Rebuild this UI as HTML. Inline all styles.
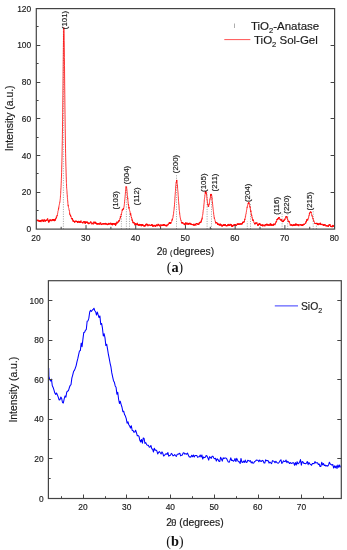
<!DOCTYPE html>
<html><head><meta charset="utf-8"><title>XRD patterns</title>
<style>html,body{margin:0;padding:0;background:#fff;width:347px;height:550px;overflow:hidden}svg{display:block}</style>
</head><body>
<svg width="347" height="550" viewBox="0 0 347 550">
<style>text{font-family:'Liberation Sans',Arial,sans-serif;fill:#1a1a1a;stroke:#1a1a1a;stroke-width:0.15px}.pk{font-size:7.9px;text-anchor:middle}.tk{font-size:8.4px}.tm{text-anchor:middle}.te{text-anchor:end}.lb{font-size:10.4px}.lg{font-size:11.5px}.ab{font-family:'Liberation Serif','Times New Roman',serif;font-size:13.8px;font-weight:bold;text-anchor:middle;fill:#111;stroke:none}</style>
<rect width="347" height="550" fill="#fff"/>
<line x1="63.4" y1="229.1" x2="63.4" y2="29.5" stroke="#8a8a8a" stroke-width="0.8" stroke-dasharray="1 1.4"/>
<line x1="121.4" y1="229.1" x2="121.4" y2="215.5" stroke="#8a8a8a" stroke-width="0.8" stroke-dasharray="1 1.4"/>
<line x1="126.4" y1="229.1" x2="126.4" y2="187" stroke="#8a8a8a" stroke-width="0.8" stroke-dasharray="1 1.4"/>
<line x1="129.5" y1="229.1" x2="129.5" y2="213.6" stroke="#8a8a8a" stroke-width="0.8" stroke-dasharray="1 1.4"/>
<line x1="176.5" y1="229.1" x2="176.5" y2="174" stroke="#8a8a8a" stroke-width="0.8" stroke-dasharray="1 1.4"/>
<line x1="207.1" y1="229.1" x2="207.1" y2="192.5" stroke="#8a8a8a" stroke-width="0.8" stroke-dasharray="1 1.4"/>
<line x1="211.5" y1="229.1" x2="211.5" y2="194.5" stroke="#8a8a8a" stroke-width="0.8" stroke-dasharray="1 1.4"/>
<line x1="247.3" y1="229.1" x2="247.3" y2="221.5" stroke="#8a8a8a" stroke-width="0.8" stroke-dasharray="1 1.4"/>
<line x1="250.5" y1="229.1" x2="250.5" y2="203.5" stroke="#8a8a8a" stroke-width="0.8" stroke-dasharray="1 1.4"/>
<line x1="282.1" y1="229.1" x2="282.1" y2="213.6" stroke="#8a8a8a" stroke-width="0.8" stroke-dasharray="1 1.4"/>
<line x1="287.7" y1="229.1" x2="287.7" y2="213.6" stroke="#8a8a8a" stroke-width="0.8" stroke-dasharray="1 1.4"/>
<line x1="313.2" y1="229.1" x2="313.2" y2="211" stroke="#8a8a8a" stroke-width="0.8" stroke-dasharray="1 1.4"/>
<line x1="316.4" y1="229.1" x2="316.4" y2="222" stroke="#8a8a8a" stroke-width="0.8" stroke-dasharray="1 1.4"/>
<path d="M36.9,219.7 37.0,220.8 37.1,221.0 37.2,220.4 37.3,219.8 37.4,220.6 37.5,220.4 37.6,220.5 37.7,220.3 37.8,220.7 37.9,221.2 38.0,221.1 38.1,219.7 38.2,220.6 38.3,221.2 38.4,221.4 38.5,220.4 38.6,220.1 38.7,220.3 38.8,220.6 38.9,220.7 39.0,220.7 39.1,221.3 39.2,221.7 39.3,220.8 39.4,220.8 39.5,221.9 39.6,220.5 39.7,220.6 39.8,220.8 39.9,221.0 40.0,221.1 40.1,220.3 40.2,220.9 40.3,220.5 40.4,220.2 40.5,221.9 40.6,220.8 40.7,220.9 40.8,221.0 40.9,220.7 41.0,221.1 41.1,222.1 41.2,220.7 41.3,220.6 41.4,220.4 41.5,220.2 41.6,220.5 41.7,219.8 41.8,221.0 41.9,220.1 42.0,220.4 42.1,220.6 42.2,219.8 42.3,219.5 42.4,220.7 42.5,220.6 42.6,221.3 42.7,220.2 42.8,219.9 42.9,220.9 43.0,220.8 43.1,221.1 43.2,220.3 43.3,220.5 43.4,222.0 43.5,221.0 43.6,220.4 43.7,220.7 43.8,220.6 43.9,219.7 44.0,220.2 44.1,220.3 44.2,219.4 44.3,219.3 44.4,220.5 44.5,221.0 44.6,221.2 44.7,220.9 44.8,221.4 44.9,220.4 45.0,220.8 45.1,220.3 45.2,220.8 45.3,221.6 45.4,220.9 45.5,220.6 45.6,221.1 45.7,220.4 45.8,220.7 45.9,220.6 46.0,219.7 46.1,221.1 46.2,221.0 46.3,220.2 46.4,220.6 46.5,220.4 46.6,220.3 46.7,220.3 46.8,220.7 46.9,220.3 47.0,220.4 47.1,219.3 47.2,220.1 47.3,219.5 47.4,218.6 47.5,218.5 47.6,219.1 47.7,218.8 47.8,218.7 47.9,220.3 48.0,220.0 48.1,220.6 48.2,219.9 48.3,221.2 48.4,221.9 48.5,221.2 48.6,222.5 48.7,221.7 48.8,221.9 48.9,222.2 49.0,221.2 49.1,222.2 49.2,220.0 49.3,221.1 49.4,220.7 49.5,220.5 49.6,219.7 49.7,220.1 49.8,221.1 49.9,221.1 50.0,220.9 50.1,219.7 50.2,220.0 50.3,219.9 50.4,219.6 50.5,220.7 50.6,220.2 50.7,220.4 50.8,221.1 50.9,221.1 51.0,219.7 51.1,220.1 51.2,220.3 51.3,220.8 51.4,220.7 51.5,220.5 51.6,220.9 51.7,221.2 51.8,220.5 51.9,220.6 52.0,220.3 52.1,219.5 52.2,219.9 52.3,220.3 52.4,219.6 52.5,220.2 52.6,219.7 52.7,220.1 52.8,220.5 52.9,219.6 53.0,219.0 53.1,220.3 53.2,219.5 53.3,219.9 53.4,219.1 53.5,220.5 53.6,219.3 53.7,219.5 53.8,220.3 53.9,219.5 54.0,219.6 54.1,220.4 54.2,219.5 54.3,220.5 54.4,221.2 54.5,220.6 54.6,220.7 54.7,219.7 54.8,220.4 54.9,219.7 55.0,219.3 55.1,220.4 55.2,219.9 55.3,220.5 55.4,218.6 55.5,218.9 55.6,219.5 55.7,218.6 55.8,218.4 55.9,218.6 56.0,219.0 56.1,218.8 56.2,218.4 56.3,216.7 56.4,217.7 56.5,217.4 56.6,216.8 56.7,217.2 56.8,216.8 56.9,216.1 57.0,215.5 57.1,215.3 57.2,216.0 57.3,215.2 57.4,214.7 57.5,213.5 57.6,213.2 57.7,213.3 57.8,212.6 57.9,211.6 58.0,211.2 58.1,211.1 58.2,210.8 58.3,210.3 58.4,209.1 58.5,209.3 58.6,207.8 58.7,208.4 58.8,207.8 58.9,207.0 59.0,205.9 59.1,205.6 59.2,205.3 59.3,204.8 59.4,204.1 59.5,203.6 59.6,202.6 59.7,202.8 59.8,202.7 59.9,202.0 60.0,200.9 60.1,200.3 60.2,199.3 60.3,198.5 60.4,197.3 60.5,195.4 60.6,194.6 60.7,193.3 60.8,190.3 60.9,189.1 61.0,187.5 61.1,185.6 61.2,183.4 61.3,180.7 61.4,178.2 61.5,176.1 61.6,172.4 61.7,169.1 61.8,164.9 61.9,161.6 62.0,157.3 62.1,151.5 62.2,146.4 62.3,140.5 62.4,134.3 62.5,127.6 62.6,120.8 62.7,112.5 62.8,103.0 62.9,94.5 63.0,84.7 63.1,75.4 63.2,65.3 63.3,56.4 63.4,47.4 63.5,40.1 63.6,33.7 63.7,30.5 63.8,27.5 63.9,27.9 64.0,31.1 64.1,33.5 64.2,40.6 64.3,47.9 64.4,57.4 64.5,65.7 64.6,76.0 64.7,86.1 64.8,94.8 64.9,105.1 65.0,114.4 65.1,121.1 65.2,128.8 65.3,135.1 65.4,142.0 65.5,148.2 65.6,153.3 65.7,157.8 65.8,161.9 65.9,166.2 66.0,168.9 66.1,172.9 66.2,176.1 66.3,179.1 66.4,182.3 66.5,183.5 66.6,186.8 66.7,188.4 66.8,189.5 66.9,190.4 67.0,191.9 67.1,194.2 67.2,194.3 67.3,196.0 67.4,197.6 67.5,198.8 67.6,199.6 67.7,201.5 67.8,201.4 67.9,203.7 68.0,204.7 68.1,205.5 68.2,204.9 68.3,206.0 68.4,207.2 68.5,207.5 68.6,207.8 68.7,208.0 68.8,208.3 68.9,208.7 69.0,209.8 69.1,210.2 69.2,210.0 69.3,210.1 69.4,210.8 69.5,211.6 69.6,212.0 69.7,214.5 69.8,213.7 69.9,213.9 70.0,214.1 70.1,214.5 70.2,215.1 70.3,215.3 70.4,214.9 70.5,216.3 70.6,215.0 70.7,215.9 70.8,216.3 70.9,216.1 71.0,216.0 71.1,216.4 71.2,216.9 71.3,217.4 71.4,218.6 71.5,218.0 71.6,218.5 71.7,218.4 71.8,218.4 71.9,219.1 72.0,219.2 72.1,218.7 72.2,219.3 72.3,219.6 72.4,218.2 72.5,219.2 72.6,219.8 72.7,219.2 72.8,220.5 72.9,221.4 73.0,220.5 73.1,220.1 73.2,220.6 73.3,221.4 73.4,220.8 73.5,220.8 73.6,221.3 73.7,221.5 73.8,220.6 73.9,220.8 74.0,221.4 74.1,221.1 74.2,221.7 74.3,221.0 74.4,222.1 74.5,222.6 74.6,222.2 74.7,221.6 74.8,222.0 74.9,222.5 75.0,221.1 75.1,221.4 75.2,221.1 75.3,221.7 75.4,221.3 75.5,221.0 75.6,221.1 75.7,221.0 75.8,220.9 75.9,220.4 76.0,221.3 76.1,221.8 76.2,221.1 76.3,221.0 76.4,222.0 76.5,221.0 76.6,221.9 76.7,221.6 76.8,221.8 76.9,222.0 77.0,221.8 77.1,221.9 77.2,221.2 77.3,222.9 77.4,222.9 77.5,222.4 77.6,221.3 77.7,222.6 77.8,222.1 77.9,222.7 78.0,221.8 78.1,222.2 78.2,222.1 78.3,221.3 78.4,221.5 78.5,220.9 78.6,221.3 78.7,221.3 78.8,221.6 78.9,222.6 79.0,222.2 79.1,221.5 79.2,222.2 79.3,222.4 79.4,221.9 79.5,221.6 79.6,221.6 79.7,222.7 79.8,222.7 79.9,221.2 80.0,222.6 80.1,222.8 80.2,222.3 80.3,222.9 80.4,221.8 80.5,221.1 80.6,221.9 80.7,221.5 80.8,221.6 80.9,221.5 81.0,220.5 81.1,221.2 81.2,221.4 81.3,221.7 81.4,222.4 81.5,222.5 81.6,222.3 81.7,222.1 81.8,222.0 81.9,221.9 82.0,222.0 82.1,222.5 82.2,221.9 82.3,222.1 82.4,222.7 82.5,222.5 82.6,223.2 82.7,222.6 82.8,222.2 82.9,222.5 83.0,223.3 83.1,222.5 83.2,222.1 83.3,222.4 83.4,221.9 83.5,221.8 83.6,221.8 83.7,221.9 83.8,221.3 83.9,222.0 84.0,221.2 84.1,221.1 84.2,221.8 84.3,222.3 84.4,222.8 84.5,221.5 84.6,222.2 84.7,222.3 84.8,223.0 84.9,223.2 85.0,222.5 85.1,223.6 85.2,223.0 85.3,223.4 85.4,222.3 85.5,223.4 85.6,221.4 85.7,221.7 85.8,222.6 85.9,222.8 86.0,221.7 86.1,222.0 86.2,222.5 86.3,221.9 86.4,222.8 86.5,222.0 86.6,222.9 86.7,223.0 86.8,222.2 86.9,221.7 87.0,222.1 87.1,221.9 87.2,221.7 87.3,221.6 87.4,223.2 87.5,222.2 87.6,222.3 87.7,222.2 87.8,222.9 87.9,223.2 88.0,222.1 88.1,223.8 88.2,223.5 88.3,223.7 88.4,223.1 88.5,223.6 88.6,223.5 88.7,224.2 88.8,223.2 88.9,223.6 89.0,223.2 89.1,223.2 89.2,223.5 89.3,222.9 89.4,223.4 89.5,223.1 89.6,223.1 89.7,222.9 89.8,222.7 89.9,223.3 90.0,222.8 90.1,222.8 90.2,223.0 90.3,222.7 90.4,222.4 90.5,221.8 90.6,221.4 90.7,222.7 90.8,222.9 90.9,222.9 91.0,222.8 91.1,222.7 91.2,221.8 91.3,223.5 91.4,223.7 91.5,223.5 91.6,224.2 91.7,224.3 91.8,223.9 91.9,223.9 92.0,223.6 92.1,223.1 92.2,223.5 92.3,222.8 92.4,223.2 92.5,223.5 92.6,223.5 92.7,223.9 92.8,223.1 92.9,223.1 93.0,223.6 93.1,224.2 93.2,224.5 93.3,222.6 93.4,222.6 93.5,223.3 93.6,222.5 93.7,222.6 93.8,222.8 93.9,221.7 94.0,221.5 94.1,221.9 94.2,222.0 94.3,222.4 94.4,222.8 94.5,222.2 94.6,223.1 94.7,222.8 94.8,223.6 94.9,223.4 95.0,223.2 95.1,222.6 95.2,221.7 95.3,223.6 95.4,222.2 95.5,222.1 95.6,222.7 95.7,223.3 95.8,222.3 95.9,222.8 96.0,223.1 96.1,223.7 96.2,223.7 96.3,224.0 96.4,222.9 96.5,224.1 96.6,223.5 96.7,223.9 96.8,224.4 96.9,224.5 97.0,224.0 97.1,223.2 97.2,224.3 97.3,223.9 97.4,223.9 97.5,223.5 97.6,224.0 97.7,224.6 97.8,224.2 97.9,224.1 98.0,223.5 98.1,224.0 98.2,223.7 98.3,223.0 98.4,223.7 98.5,223.6 98.6,223.7 98.7,223.6 98.8,224.3 98.9,223.9 99.0,224.3 99.1,223.2 99.2,224.6 99.3,224.0 99.4,224.1 99.5,223.8 99.6,224.0 99.7,224.2 99.8,223.8 99.9,223.2 100.0,223.5 100.1,223.1 100.2,222.3 100.3,222.9 100.4,223.3 100.5,223.8 100.6,224.2 100.7,223.2 100.8,223.2 100.9,222.8 101.0,223.4 101.1,223.2 101.2,224.9 101.3,224.1 101.4,224.9 101.5,224.7 101.6,224.5 101.7,224.7 101.8,225.0 101.9,224.7 102.0,224.6 102.1,224.2 102.2,224.1 102.3,223.7 102.4,224.3 102.5,223.5 102.6,224.1 102.7,224.2 102.8,224.1 102.9,224.1 103.0,223.8 103.1,223.8 103.2,223.8 103.3,223.1 103.4,224.4 103.5,223.6 103.6,224.2 103.7,223.9 103.8,224.0 103.9,223.5 104.0,223.3 104.1,224.2 104.2,223.6 104.3,223.7 104.4,223.9 104.5,223.9 104.6,223.3 104.7,223.9 104.8,224.6 104.9,223.6 105.0,223.0 105.1,223.2 105.2,223.5 105.3,223.6 105.4,222.9 105.5,223.5 105.6,223.2 105.7,223.8 105.8,224.0 105.9,224.5 106.0,223.4 106.1,224.7 106.2,223.8 106.3,224.0 106.4,223.7 106.5,223.6 106.6,223.6 106.7,223.9 106.8,224.4 106.9,223.8 107.0,224.3 107.1,224.4 107.2,224.4 107.3,223.7 107.4,224.1 107.5,225.1 107.6,224.7 107.7,224.7 107.8,224.7 107.9,224.0 108.0,225.0 108.1,224.7 108.2,223.8 108.3,224.1 108.4,223.7 108.5,223.7 108.6,224.1 108.7,223.5 108.8,222.9 108.9,224.2 109.0,223.7 109.1,224.5 109.2,223.4 109.3,223.1 109.4,223.4 109.5,224.0 109.6,224.2 109.7,224.2 109.8,223.9 109.9,223.8 110.0,224.3 110.1,223.3 110.2,223.6 110.3,223.7 110.4,224.1 110.5,224.3 110.6,223.7 110.7,222.7 110.8,223.4 110.9,223.1 111.0,223.5 111.1,224.2 111.2,223.5 111.3,223.2 111.4,224.6 111.5,224.2 111.6,224.9 111.7,224.4 111.8,223.8 111.9,224.6 112.0,223.9 112.1,223.8 112.2,224.1 112.3,223.5 112.4,225.3 112.5,223.2 112.6,223.2 112.7,224.6 112.8,224.5 112.9,224.0 113.0,223.9 113.1,224.6 113.2,223.2 113.3,224.2 113.4,224.1 113.5,223.9 113.6,223.4 113.7,224.1 113.8,223.4 113.9,223.9 114.0,224.1 114.1,223.7 114.2,224.2 114.3,223.7 114.4,224.7 114.5,224.7 114.6,223.6 114.7,224.1 114.8,224.6 114.9,223.8 115.0,224.2 115.1,223.9 115.2,223.5 115.3,224.1 115.4,222.9 115.5,223.5 115.6,225.9 115.7,224.4 115.8,224.9 115.9,224.2 116.0,224.5 116.1,223.7 116.2,223.4 116.3,224.1 116.4,223.5 116.5,223.5 116.6,222.9 116.7,223.4 116.8,221.7 116.9,222.2 117.0,222.1 117.1,222.8 117.2,223.3 117.3,223.5 117.4,222.8 117.5,223.0 117.6,222.3 117.7,222.5 117.8,222.5 117.9,222.2 118.0,222.3 118.1,222.8 118.2,221.1 118.3,221.7 118.4,221.4 118.5,221.8 118.6,221.3 118.7,220.5 118.8,221.1 118.9,220.8 119.0,221.3 119.1,220.7 119.2,220.5 119.3,220.2 119.4,220.1 119.5,221.2 119.6,219.7 119.7,219.3 119.8,218.7 119.9,218.9 120.0,219.2 120.1,218.7 120.2,217.9 120.3,217.4 120.4,216.2 120.5,217.7 120.6,216.9 120.7,216.6 120.8,216.4 120.9,216.4 121.0,215.7 121.1,215.3 121.2,214.0 121.3,214.7 121.4,213.7 121.5,213.8 121.6,213.2 121.7,212.6 121.8,212.7 121.9,211.8 122.0,211.1 122.1,210.8 122.2,209.8 122.3,210.5 122.4,209.6 122.5,210.1 122.6,209.6 122.7,208.9 122.8,209.5 122.9,209.0 123.0,209.2 123.1,209.3 123.2,208.8 123.3,209.3 123.4,209.0 123.5,208.2 123.6,209.1 123.7,208.0 123.8,207.9 123.9,207.2 124.0,207.1 124.1,206.2 124.2,205.8 124.3,204.7 124.4,203.8 124.5,203.1 124.6,201.5 124.7,200.1 124.8,199.6 124.9,198.5 125.0,197.9 125.1,196.7 125.2,195.2 125.3,194.6 125.4,193.1 125.5,191.8 125.6,191.2 125.7,189.4 125.8,189.0 125.9,187.2 126.0,186.7 126.1,187.2 126.2,186.6 126.3,186.9 126.4,187.0 126.5,186.9 126.6,187.3 126.7,188.6 126.8,188.8 126.9,190.1 127.0,191.2 127.1,191.8 127.2,192.7 127.3,194.4 127.4,195.5 127.5,196.0 127.6,197.0 127.7,199.0 127.8,198.5 127.9,200.2 128.0,201.5 128.1,201.6 128.2,203.7 128.3,204.7 128.4,204.1 128.5,205.1 128.6,205.9 128.7,205.6 128.8,208.4 128.9,208.0 129.0,207.5 129.1,207.1 129.2,208.3 129.3,209.4 129.4,210.0 129.5,210.1 129.6,210.3 129.7,211.2 129.8,211.2 129.9,211.2 130.0,211.4 130.1,212.6 130.2,212.6 130.3,213.1 130.4,214.2 130.5,214.3 130.6,214.8 130.7,213.3 130.8,214.9 130.9,215.9 131.0,215.6 131.1,215.9 131.2,216.6 131.3,217.1 131.4,217.6 131.5,217.0 131.6,217.8 131.7,218.1 131.8,218.6 131.9,219.5 132.0,218.8 132.1,219.0 132.2,220.9 132.3,220.0 132.4,220.3 132.5,220.1 132.6,220.9 132.7,222.0 132.8,221.8 132.9,222.5 133.0,221.8 133.1,223.2 133.2,222.5 133.3,222.9 133.4,222.3 133.5,222.4 133.6,223.3 133.7,222.7 133.8,222.3 133.9,222.9 134.0,222.3 134.1,222.9 134.2,222.6 134.3,223.1 134.4,223.3 134.5,223.0 134.6,223.2 134.7,224.4 134.8,224.5 134.9,223.6 135.0,225.4 135.1,224.1 135.2,224.0 135.3,223.7 135.4,224.7 135.5,224.6 135.6,223.8 135.7,224.1 135.8,223.1 135.9,223.7 136.0,223.6 136.1,223.7 136.2,224.0 136.3,224.6 136.4,224.0 136.5,224.5 136.6,223.7 136.7,224.7 136.8,224.5 136.9,225.2 137.0,223.9 137.1,224.9 137.2,224.5 137.3,224.0 137.4,222.8 137.5,223.3 137.6,224.8 137.7,224.0 137.8,225.2 137.9,225.3 138.0,224.7 138.1,224.7 138.2,224.8 138.3,225.1 138.4,224.5 138.5,225.0 138.6,224.5 138.7,226.0 138.8,225.4 138.9,225.0 139.0,225.4 139.1,225.4 139.2,225.0 139.3,223.9 139.4,224.4 139.5,224.8 139.6,225.4 139.7,225.0 139.8,225.5 139.9,224.1 140.0,224.4 140.1,224.3 140.2,225.4 140.3,224.2 140.4,224.1 140.5,224.9 140.6,225.2 140.7,225.1 140.8,224.8 140.9,225.1 141.0,225.4 141.1,224.4 141.2,225.2 141.3,226.3 141.4,225.6 141.5,224.8 141.6,225.6 141.7,224.4 141.8,225.0 141.9,225.1 142.0,224.4 142.1,225.3 142.2,224.7 142.3,225.2 142.4,224.6 142.5,224.8 142.6,225.9 142.7,224.4 142.8,224.4 142.9,225.2 143.0,224.6 143.1,225.5 143.2,225.7 143.3,225.5 143.4,225.7 143.5,225.8 143.6,225.1 143.7,225.7 143.8,226.3 143.9,226.2 144.0,226.5 144.1,226.7 144.2,225.6 144.3,226.1 144.4,225.7 144.5,226.2 144.6,225.5 144.7,226.0 144.8,225.5 144.9,226.2 145.0,226.5 145.1,225.8 145.2,225.9 145.3,225.3 145.4,224.7 145.5,226.1 145.6,225.7 145.7,225.2 145.8,223.9 145.9,224.5 146.0,224.8 146.1,225.4 146.2,224.3 146.3,224.1 146.4,224.0 146.5,224.5 146.6,224.4 146.7,223.5 146.8,223.8 146.9,224.8 147.0,225.3 147.1,224.7 147.2,225.1 147.3,224.4 147.4,224.1 147.5,224.1 147.6,225.4 147.7,224.4 147.8,224.9 147.9,226.2 148.0,226.1 148.1,225.8 148.2,226.1 148.3,225.5 148.4,225.9 148.5,225.4 148.6,225.6 148.7,225.7 148.8,225.2 148.9,224.6 149.0,224.9 149.1,224.3 149.2,224.5 149.3,224.7 149.4,224.6 149.5,225.1 149.6,225.0 149.7,225.4 149.8,225.1 149.9,225.9 150.0,225.6 150.1,225.7 150.2,225.6 150.3,225.1 150.4,225.8 150.5,225.8 150.6,225.9 150.7,225.5 150.8,224.9 150.9,225.9 151.0,225.3 151.1,224.7 151.2,225.3 151.3,225.2 151.4,224.8 151.5,224.3 151.6,224.1 151.7,225.3 151.8,225.0 151.9,225.4 152.0,225.0 152.1,225.7 152.2,224.3 152.3,225.2 152.4,224.8 152.5,225.4 152.6,226.3 152.7,224.9 152.8,226.4 152.9,226.6 153.0,225.6 153.1,226.4 153.2,225.8 153.3,226.4 153.4,226.0 153.5,225.8 153.6,225.7 153.7,225.1 153.8,225.8 153.9,225.2 154.0,225.4 154.1,224.8 154.2,225.5 154.3,226.3 154.4,225.5 154.5,225.4 154.6,225.3 154.7,225.2 154.8,225.8 154.9,225.2 155.0,225.4 155.1,226.2 155.2,226.0 155.3,226.0 155.4,227.0 155.5,225.3 155.6,225.1 155.7,225.4 155.8,225.1 155.9,225.0 156.0,225.4 156.1,224.8 156.2,224.7 156.3,224.5 156.4,225.2 156.5,225.3 156.6,225.3 156.7,225.8 156.8,224.8 156.9,225.4 157.0,226.4 157.1,224.5 157.2,225.2 157.3,225.5 157.4,225.7 157.5,225.1 157.6,225.9 157.7,225.4 157.8,225.2 157.9,225.3 158.0,224.9 158.1,223.8 158.2,224.4 158.3,224.2 158.4,224.7 158.5,224.0 158.6,225.1 158.7,224.5 158.8,224.9 158.9,225.0 159.0,225.8 159.1,224.7 159.2,225.9 159.3,225.0 159.4,224.9 159.5,226.0 159.6,226.2 159.7,225.5 159.8,225.9 159.9,225.8 160.0,225.8 160.1,226.3 160.2,226.2 160.3,226.8 160.4,226.2 160.5,226.3 160.6,225.8 160.7,224.6 160.8,224.7 160.9,225.3 161.0,224.5 161.1,225.7 161.2,225.8 161.3,226.1 161.4,225.8 161.5,224.8 161.6,225.2 161.7,225.1 161.8,225.6 161.9,225.4 162.0,226.0 162.1,225.7 162.2,226.0 162.3,225.3 162.4,225.7 162.5,225.7 162.6,224.8 162.7,224.5 162.8,224.9 162.9,225.7 163.0,224.8 163.1,224.7 163.2,225.6 163.3,224.5 163.4,225.5 163.5,224.3 163.6,224.6 163.7,224.9 163.8,224.4 163.9,225.1 164.0,224.1 164.1,224.7 164.2,225.2 164.3,224.5 164.4,225.3 164.5,224.7 164.6,225.3 164.7,225.4 164.8,225.0 164.9,225.6 165.0,225.6 165.1,224.8 165.2,225.9 165.3,225.7 165.4,225.6 165.5,226.0 165.6,225.4 165.7,225.7 165.8,225.0 165.9,225.2 166.0,226.4 166.1,224.7 166.2,225.3 166.3,225.6 166.4,225.9 166.5,225.6 166.6,225.0 166.7,225.5 166.8,226.4 166.9,225.3 167.0,224.8 167.1,225.2 167.2,225.6 167.3,225.0 167.4,224.9 167.5,225.2 167.6,224.6 167.7,224.6 167.8,224.3 167.9,224.7 168.0,224.8 168.1,225.2 168.2,224.3 168.3,223.7 168.4,223.8 168.5,224.5 168.6,223.8 168.7,223.6 168.8,223.7 168.9,223.6 169.0,223.6 169.1,223.6 169.2,222.4 169.3,223.9 169.4,223.4 169.5,222.3 169.6,223.4 169.7,223.5 169.8,222.4 169.9,223.8 170.0,222.9 170.1,223.4 170.2,223.3 170.3,222.3 170.4,222.1 170.5,223.3 170.6,222.5 170.7,223.9 170.8,223.2 170.9,222.7 171.0,223.1 171.1,223.0 171.2,222.9 171.3,222.5 171.4,222.3 171.5,221.9 171.6,221.7 171.7,221.5 171.8,220.4 171.9,220.9 172.0,220.7 172.1,220.4 172.2,219.1 172.3,219.8 172.4,218.7 172.5,218.8 172.6,218.9 172.7,218.4 172.8,218.0 172.9,217.8 173.0,217.1 173.1,215.8 173.2,215.9 173.3,215.0 173.4,214.3 173.5,214.3 173.6,213.3 173.7,211.6 173.8,210.9 173.9,210.5 174.0,209.9 174.1,209.0 174.2,207.2 174.3,207.3 174.4,206.1 174.5,204.5 174.6,202.6 174.7,201.8 174.8,200.5 174.9,198.8 175.0,196.8 175.1,195.7 175.2,194.6 175.3,192.7 175.4,191.6 175.5,190.6 175.6,188.3 175.7,187.0 175.8,185.9 175.9,184.7 176.0,183.5 176.1,182.5 176.2,182.3 176.3,182.7 176.4,181.3 176.5,181.5 176.6,180.5 176.7,179.9 176.8,181.2 176.9,180.6 177.0,181.3 177.1,183.2 177.2,183.5 177.3,183.8 177.4,184.7 177.5,186.0 177.6,188.3 177.7,189.4 177.8,190.6 177.9,191.3 178.0,192.6 178.1,194.3 178.2,195.5 178.3,196.8 178.4,198.9 178.5,200.8 178.6,201.5 178.7,202.9 178.8,204.4 178.9,204.3 179.0,205.7 179.1,208.1 179.2,210.1 179.3,210.3 179.4,210.9 179.5,211.4 179.6,213.4 179.7,213.2 179.8,215.0 179.9,215.3 180.0,215.9 180.1,216.9 180.2,217.1 180.3,217.9 180.4,218.1 180.5,219.0 180.6,219.6 180.7,219.5 180.8,220.2 180.9,220.0 181.0,220.3 181.1,220.6 181.2,220.5 181.3,221.5 181.4,222.4 181.5,222.3 181.6,222.0 181.7,222.8 181.8,222.5 181.9,223.2 182.0,223.7 182.1,222.2 182.2,223.0 182.3,222.9 182.4,222.5 182.5,222.0 182.6,223.2 182.7,223.1 182.8,222.8 182.9,223.2 183.0,223.0 183.1,222.7 183.2,223.5 183.3,223.2 183.4,223.6 183.5,223.6 183.6,223.7 183.7,224.0 183.8,223.7 183.9,223.9 184.0,223.7 184.1,224.2 184.2,224.8 184.3,224.1 184.4,224.8 184.5,225.1 184.6,224.1 184.7,223.6 184.8,224.2 184.9,224.0 185.0,224.6 185.1,223.3 185.2,223.9 185.3,224.1 185.4,223.9 185.5,222.5 185.6,223.3 185.7,223.6 185.8,223.6 185.9,225.0 186.0,223.8 186.1,223.9 186.2,222.7 186.3,222.9 186.4,224.1 186.5,223.9 186.6,223.9 186.7,223.7 186.8,224.0 186.9,223.6 187.0,222.6 187.1,223.0 187.2,223.3 187.3,224.2 187.4,224.0 187.5,224.0 187.6,224.5 187.7,224.3 187.8,223.7 187.9,224.0 188.0,222.9 188.1,223.4 188.2,224.4 188.3,223.7 188.4,224.6 188.5,224.1 188.6,223.4 188.7,223.5 188.8,224.1 188.9,223.0 189.0,224.1 189.1,224.4 189.2,224.1 189.3,223.6 189.4,223.9 189.5,223.9 189.6,223.5 189.7,222.8 189.8,223.3 189.9,224.3 190.0,223.1 190.1,222.9 190.2,223.6 190.3,223.0 190.4,223.7 190.5,224.2 190.6,224.1 190.7,224.2 190.8,224.5 190.9,224.7 191.0,224.4 191.1,223.7 191.2,225.0 191.3,223.8 191.4,224.7 191.5,224.2 191.6,223.9 191.7,224.1 191.8,224.3 191.9,224.9 192.0,224.4 192.1,224.5 192.2,225.1 192.3,224.7 192.4,224.5 192.5,224.7 192.6,225.1 192.7,224.5 192.8,224.9 192.9,224.6 193.0,224.1 193.1,224.3 193.2,224.9 193.3,224.7 193.4,224.4 193.5,225.2 193.6,224.8 193.7,223.8 193.8,224.6 193.9,225.9 194.0,225.3 194.1,225.1 194.2,225.0 194.3,225.4 194.4,224.8 194.5,224.8 194.6,225.1 194.7,224.8 194.8,225.0 194.9,225.2 195.0,223.8 195.1,225.2 195.2,224.8 195.3,224.7 195.4,224.7 195.5,223.8 195.6,224.8 195.7,225.0 195.8,225.2 195.9,225.6 196.0,225.4 196.1,224.6 196.2,224.7 196.3,223.9 196.4,223.1 196.5,224.0 196.6,224.0 196.7,223.7 196.8,223.2 196.9,223.9 197.0,223.4 197.1,223.7 197.2,223.1 197.3,223.7 197.4,224.0 197.5,223.8 197.6,224.4 197.7,224.0 197.8,224.4 197.9,225.0 198.0,224.8 198.1,224.9 198.2,224.4 198.3,224.7 198.4,225.0 198.5,223.8 198.6,224.3 198.7,223.7 198.8,223.5 198.9,223.6 199.0,222.8 199.1,224.4 199.2,224.4 199.3,223.7 199.4,222.3 199.5,222.5 199.6,223.0 199.7,222.9 199.8,222.7 199.9,222.3 200.0,222.0 200.1,222.1 200.2,223.1 200.3,221.6 200.4,222.1 200.5,222.0 200.6,222.5 200.7,221.9 200.8,222.1 200.9,222.2 201.0,222.5 201.1,222.1 201.2,221.1 201.3,220.2 201.4,220.7 201.5,221.5 201.6,220.4 201.7,219.3 201.8,219.9 201.9,219.5 202.0,218.8 202.1,217.9 202.2,218.6 202.3,216.8 202.4,216.1 202.5,215.7 202.6,215.4 202.7,215.2 202.8,214.1 202.9,213.7 203.0,212.0 203.1,211.7 203.2,210.3 203.3,210.0 203.4,209.4 203.5,209.4 203.6,208.7 203.7,208.0 203.8,206.1 203.9,204.8 204.0,204.0 204.1,203.1 204.2,202.3 204.3,199.8 204.4,199.3 204.5,198.4 204.6,198.0 204.7,197.4 204.8,196.5 204.9,195.0 205.0,194.6 205.1,194.4 205.2,193.1 205.3,191.5 205.4,192.5 205.5,191.2 205.6,193.5 205.7,191.8 205.8,190.9 205.9,191.9 206.0,191.9 206.1,191.9 206.2,192.6 206.3,193.5 206.4,192.9 206.5,193.4 206.6,195.1 206.7,195.8 206.8,196.8 206.9,197.4 207.0,198.9 207.1,200.2 207.2,200.1 207.3,200.4 207.4,201.7 207.5,202.6 207.6,202.6 207.7,204.2 207.8,205.1 207.9,204.9 208.0,204.3 208.1,205.5 208.2,206.3 208.3,206.7 208.4,205.7 208.5,206.2 208.6,206.7 208.7,206.3 208.8,205.1 208.9,204.8 209.0,204.4 209.1,204.7 209.2,204.7 209.3,203.6 209.4,203.8 209.5,202.4 209.6,201.7 209.7,200.9 209.8,199.7 209.9,200.0 210.0,199.5 210.1,198.2 210.2,198.3 210.3,198.3 210.4,197.0 210.5,195.9 210.6,195.2 210.7,195.8 210.8,194.1 210.9,195.5 211.0,193.9 211.1,195.1 211.2,195.0 211.3,194.8 211.4,195.0 211.5,194.8 211.6,195.5 211.7,195.5 211.8,195.7 211.9,197.3 212.0,198.3 212.1,197.9 212.2,200.6 212.3,200.8 212.4,201.4 212.5,203.0 212.6,204.3 212.7,204.7 212.8,206.3 212.9,206.9 213.0,207.7 213.1,208.7 213.2,209.4 213.3,210.4 213.4,211.5 213.5,211.7 213.6,212.8 213.7,214.2 213.8,214.8 213.9,214.9 214.0,216.1 214.1,216.9 214.2,217.4 214.3,218.5 214.4,217.7 214.5,218.5 214.6,218.9 214.7,219.3 214.8,219.4 214.9,219.6 215.0,220.4 215.1,220.7 215.2,220.8 215.3,221.7 215.4,221.4 215.5,221.5 215.6,222.0 215.7,223.3 215.8,223.5 215.9,223.3 216.0,222.2 216.1,222.8 216.2,222.3 216.3,222.9 216.4,222.6 216.5,222.7 216.6,223.1 216.7,222.3 216.8,222.2 216.9,223.2 217.0,223.4 217.1,223.6 217.2,222.9 217.3,222.9 217.4,223.3 217.5,223.4 217.6,224.9 217.7,223.2 217.8,224.5 217.9,224.2 218.0,224.5 218.1,224.8 218.2,223.9 218.3,224.5 218.4,223.8 218.5,224.1 218.6,224.6 218.7,224.2 218.8,223.8 218.9,225.2 219.0,225.3 219.1,225.4 219.2,225.0 219.3,224.8 219.4,224.1 219.5,225.5 219.6,225.1 219.7,225.2 219.8,225.2 219.9,224.9 220.0,224.1 220.1,223.6 220.2,224.5 220.3,225.1 220.4,224.3 220.5,223.9 220.6,225.4 220.7,224.6 220.8,225.6 220.9,224.9 221.0,224.7 221.1,225.0 221.2,224.4 221.3,224.6 221.4,225.1 221.5,225.6 221.6,225.8 221.7,226.1 221.8,226.3 221.9,226.4 222.0,224.8 222.1,226.4 222.2,225.0 222.3,226.3 222.4,225.7 222.5,225.9 222.6,225.4 222.7,225.4 222.8,225.1 222.9,225.5 223.0,225.6 223.1,225.3 223.2,224.6 223.3,225.7 223.4,225.5 223.5,225.7 223.6,224.2 223.7,225.9 223.8,225.3 223.9,225.6 224.0,225.4 224.1,225.4 224.2,225.6 224.3,224.7 224.4,225.3 224.5,225.3 224.6,224.6 224.7,225.8 224.8,224.7 224.9,224.8 225.0,224.2 225.1,224.1 225.2,225.1 225.3,225.1 225.4,224.2 225.5,225.5 225.6,225.4 225.7,226.1 225.8,225.5 225.9,225.6 226.0,225.7 226.1,225.4 226.2,226.1 226.3,225.4 226.4,225.2 226.5,225.5 226.6,226.3 226.7,226.0 226.8,225.0 226.9,225.9 227.0,225.4 227.1,225.0 227.2,225.7 227.3,225.3 227.4,224.8 227.5,224.6 227.6,225.5 227.7,226.2 227.8,224.6 227.9,225.7 228.0,224.7 228.1,224.7 228.2,224.7 228.3,225.1 228.4,225.0 228.5,224.6 228.6,225.4 228.7,224.3 228.8,223.9 228.9,225.6 229.0,225.6 229.1,225.9 229.2,225.0 229.3,224.9 229.4,226.0 229.5,225.0 229.6,226.0 229.7,224.4 229.8,224.4 229.9,224.8 230.0,224.8 230.1,225.0 230.2,224.2 230.3,224.4 230.4,224.3 230.5,223.9 230.6,225.1 230.7,224.4 230.8,224.4 230.9,225.7 231.0,224.5 231.1,225.5 231.2,225.4 231.3,225.4 231.4,224.3 231.5,225.5 231.6,225.3 231.7,226.5 231.8,225.1 231.9,226.3 232.0,226.9 232.1,224.9 232.2,225.5 232.3,226.2 232.4,225.9 232.5,226.7 232.6,226.1 232.7,226.1 232.8,225.6 232.9,225.2 233.0,225.4 233.1,226.3 233.2,225.2 233.3,225.2 233.4,224.9 233.5,225.8 233.6,224.9 233.7,224.7 233.8,224.6 233.9,224.6 234.0,225.4 234.1,225.4 234.2,224.6 234.3,224.6 234.4,224.9 234.5,225.4 234.6,224.8 234.7,225.8 234.8,224.6 234.9,225.1 235.0,224.1 235.1,225.4 235.2,224.1 235.3,225.0 235.4,224.8 235.5,225.1 235.6,225.2 235.7,225.4 235.8,225.4 235.9,225.7 236.0,225.3 236.1,225.1 236.2,225.8 236.3,225.9 236.4,225.4 236.5,226.0 236.6,225.5 236.7,225.2 236.8,224.8 236.9,224.0 237.0,224.1 237.1,223.8 237.2,225.0 237.3,224.1 237.4,224.2 237.5,223.8 237.6,224.0 237.7,223.6 237.8,224.3 237.9,225.0 238.0,223.4 238.1,223.8 238.2,224.6 238.3,225.0 238.4,224.3 238.5,223.9 238.6,224.2 238.7,223.5 238.8,224.1 238.9,224.0 239.0,224.8 239.1,224.5 239.2,224.7 239.3,224.6 239.4,224.5 239.5,223.4 239.6,223.4 239.7,224.5 239.8,224.7 239.9,224.7 240.0,224.3 240.1,225.0 240.2,224.7 240.3,223.9 240.4,224.0 240.5,223.7 240.6,224.1 240.7,223.7 240.8,223.6 240.9,223.1 241.0,224.2 241.1,224.4 241.2,224.2 241.3,223.6 241.4,223.4 241.5,223.3 241.6,223.9 241.7,224.0 241.8,224.8 241.9,223.9 242.0,223.5 242.1,223.7 242.2,223.3 242.3,223.9 242.4,222.9 242.5,222.1 242.6,223.4 242.7,222.3 242.8,222.2 242.9,222.3 243.0,221.7 243.1,221.6 243.2,222.6 243.3,222.1 243.4,221.7 243.5,222.3 243.6,222.2 243.7,222.0 243.8,222.0 243.9,222.7 244.0,221.7 244.1,221.6 244.2,221.3 244.3,221.3 244.4,221.9 244.5,221.0 244.6,219.8 244.7,219.1 244.8,220.0 244.9,219.7 245.0,218.3 245.1,218.0 245.2,218.1 245.3,217.9 245.4,216.2 245.5,216.3 245.6,216.4 245.7,215.2 245.8,214.5 245.9,214.0 246.0,214.0 246.1,213.9 246.2,212.6 246.3,212.4 246.4,211.8 246.5,210.7 246.6,210.1 246.7,209.8 246.8,209.2 246.9,208.4 247.0,207.6 247.1,206.9 247.2,207.4 247.3,207.5 247.4,206.2 247.5,205.5 247.6,205.6 247.7,205.3 247.8,204.9 247.9,204.0 248.0,203.6 248.1,203.9 248.2,203.4 248.3,203.1 248.4,203.6 248.5,202.3 248.6,202.5 248.7,202.4 248.8,202.9 248.9,202.4 249.0,203.7 249.1,202.9 249.2,203.4 249.3,204.2 249.4,205.0 249.5,205.0 249.6,205.3 249.7,206.8 249.8,206.6 249.9,206.8 250.0,206.5 250.1,207.8 250.2,207.4 250.3,209.0 250.4,209.5 250.5,209.9 250.6,210.8 250.7,210.7 250.8,211.7 250.9,210.7 251.0,212.3 251.1,212.6 251.2,212.9 251.3,214.0 251.4,215.4 251.5,215.1 251.6,214.8 251.7,215.8 251.8,215.5 251.9,216.3 252.0,217.5 252.1,217.9 252.2,217.5 252.3,218.0 252.4,219.4 252.5,219.7 252.6,219.3 252.7,219.5 252.8,220.0 252.9,220.4 253.0,219.4 253.1,221.0 253.2,219.9 253.3,220.9 253.4,220.7 253.5,221.2 253.6,221.2 253.7,221.4 253.8,222.4 253.9,222.6 254.0,222.6 254.1,222.9 254.2,223.1 254.3,223.0 254.4,223.0 254.5,223.8 254.6,224.2 254.7,224.3 254.8,223.1 254.9,223.3 255.0,223.5 255.1,222.7 255.2,224.3 255.3,223.6 255.4,223.4 255.5,223.6 255.6,222.9 255.7,223.4 255.8,223.4 255.9,223.2 256.0,223.2 256.1,222.3 256.2,223.2 256.3,223.6 256.4,223.5 256.5,223.0 256.6,223.4 256.7,223.3 256.8,223.3 256.9,222.4 257.0,222.7 257.1,223.8 257.2,223.8 257.3,223.8 257.4,224.5 257.5,224.0 257.6,225.3 257.7,225.0 257.8,225.5 257.9,224.8 258.0,224.6 258.1,225.4 258.2,224.8 258.3,225.5 258.4,223.8 258.5,224.5 258.6,225.2 258.7,224.3 258.8,223.9 258.9,223.8 259.0,224.2 259.1,224.9 259.2,223.9 259.3,224.8 259.4,223.2 259.5,224.0 259.6,224.3 259.7,224.3 259.8,223.4 259.9,224.4 260.0,223.6 260.1,223.9 260.2,224.0 260.3,224.3 260.4,224.1 260.5,225.0 260.6,225.3 260.7,224.3 260.8,225.2 260.9,225.5 261.0,226.0 261.1,225.8 261.2,225.0 261.3,224.8 261.4,225.8 261.5,225.2 261.6,225.5 261.7,225.9 261.8,226.0 261.9,224.9 262.0,225.8 262.1,224.6 262.2,225.3 262.3,224.8 262.4,224.3 262.5,225.3 262.6,225.8 262.7,225.7 262.8,226.5 262.9,225.7 263.0,225.4 263.1,225.6 263.2,225.1 263.3,225.0 263.4,225.3 263.5,225.0 263.6,225.0 263.7,225.3 263.8,225.0 263.9,224.5 264.0,225.8 264.1,226.1 264.2,225.3 264.3,225.6 264.4,225.4 264.5,225.6 264.6,225.0 264.7,224.9 264.8,226.2 264.9,226.4 265.0,226.0 265.1,225.3 265.2,225.3 265.3,225.2 265.4,224.4 265.5,225.3 265.6,225.5 265.7,224.5 265.8,224.7 265.9,224.4 266.0,224.8 266.1,224.2 266.2,225.0 266.3,224.8 266.4,224.6 266.5,225.2 266.6,225.4 266.7,224.6 266.8,224.9 266.9,223.6 267.0,224.7 267.1,225.5 267.2,224.8 267.3,224.6 267.4,225.3 267.5,224.3 267.6,224.9 267.7,225.2 267.8,224.9 267.9,225.0 268.0,225.2 268.1,224.1 268.2,224.6 268.3,225.1 268.4,225.8 268.5,225.7 268.6,225.1 268.7,224.8 268.8,225.1 268.9,224.5 269.0,225.1 269.1,225.2 269.2,224.9 269.3,225.9 269.4,225.1 269.5,225.2 269.6,225.0 269.7,224.5 269.8,224.5 269.9,223.7 270.0,224.9 270.1,224.8 270.2,224.9 270.3,225.3 270.4,224.5 270.5,224.4 270.6,223.3 270.7,225.1 270.8,224.0 270.9,226.0 271.0,225.5 271.1,225.3 271.2,225.1 271.3,223.9 271.4,224.5 271.5,224.9 271.6,225.7 271.7,224.5 271.8,224.3 271.9,225.1 272.0,224.8 272.1,224.3 272.2,224.7 272.3,225.3 272.4,225.3 272.5,225.0 272.6,225.3 272.7,225.2 272.8,225.3 272.9,225.9 273.0,225.7 273.1,224.6 273.2,225.5 273.3,224.4 273.4,225.4 273.5,223.9 273.6,224.6 273.7,224.4 273.8,224.0 273.9,223.8 274.0,223.5 274.1,224.3 274.2,224.7 274.3,224.5 274.4,223.9 274.5,224.8 274.6,224.6 274.7,224.6 274.8,224.9 274.9,225.2 275.0,225.0 275.1,224.4 275.2,224.0 275.3,224.2 275.4,223.3 275.5,223.9 275.6,223.2 275.7,222.9 275.8,222.1 275.9,222.6 276.0,222.6 276.1,221.6 276.2,222.1 276.3,221.2 276.4,221.7 276.5,221.1 276.6,221.5 276.7,220.4 276.8,219.7 276.9,220.2 277.0,219.2 277.1,219.9 277.2,219.3 277.3,219.7 277.4,219.6 277.5,219.7 277.6,218.7 277.7,219.6 277.8,218.8 277.9,219.1 278.0,218.9 278.1,218.1 278.2,219.2 278.3,219.0 278.4,218.4 278.5,219.0 278.6,217.6 278.7,217.9 278.8,217.1 278.9,217.0 279.0,217.4 279.1,217.2 279.2,217.5 279.3,217.2 279.4,217.0 279.5,218.4 279.6,218.7 279.7,219.4 279.8,218.8 279.9,218.6 280.0,219.0 280.1,219.1 280.2,219.9 280.3,219.7 280.4,219.8 280.5,220.3 280.6,219.3 280.7,219.4 280.8,220.0 280.9,219.9 281.0,220.7 281.1,220.6 281.2,220.6 281.3,220.4 281.4,220.2 281.5,220.6 281.6,220.0 281.7,219.1 281.8,220.7 281.9,221.3 282.0,221.1 282.1,220.8 282.2,221.2 282.3,220.9 282.4,221.0 282.5,221.6 282.6,221.8 282.7,220.8 282.8,222.1 282.9,221.9 283.0,221.1 283.1,221.9 283.2,221.1 283.3,221.7 283.4,220.6 283.5,221.4 283.6,221.3 283.7,219.9 283.8,220.0 283.9,219.9 284.0,220.1 284.1,219.8 284.2,220.6 284.3,220.6 284.4,219.8 284.5,220.3 284.6,219.5 284.7,219.4 284.8,218.9 284.9,218.7 285.0,219.5 285.1,219.6 285.2,219.0 285.3,218.3 285.4,218.0 285.5,217.7 285.6,217.2 285.7,216.9 285.8,217.6 285.9,217.4 286.0,217.2 286.1,216.2 286.2,217.1 286.3,216.3 286.4,216.9 286.5,216.6 286.6,216.6 286.7,216.6 286.8,216.6 286.9,216.8 287.0,218.3 287.1,218.1 287.2,217.3 287.3,218.8 287.4,218.9 287.5,219.5 287.6,219.2 287.7,219.9 287.8,220.1 287.9,220.3 288.0,219.9 288.1,220.7 288.2,221.5 288.3,221.1 288.4,221.4 288.5,221.0 288.6,221.3 288.7,221.5 288.8,220.9 288.9,221.7 289.0,222.1 289.1,221.2 289.2,222.2 289.3,221.8 289.4,222.8 289.5,222.6 289.6,222.6 289.7,223.1 289.8,223.1 289.9,224.1 290.0,224.1 290.1,224.6 290.2,224.5 290.3,225.7 290.4,224.8 290.5,224.8 290.6,224.4 290.7,224.5 290.8,224.9 290.9,224.9 291.0,225.0 291.1,224.7 291.2,225.1 291.3,225.5 291.4,224.2 291.5,224.9 291.6,224.9 291.7,225.1 291.8,225.5 291.9,226.0 292.0,225.5 292.1,225.9 292.2,224.6 292.3,224.9 292.4,225.0 292.5,225.6 292.6,226.1 292.7,226.1 292.8,225.9 292.9,225.5 293.0,225.4 293.1,224.6 293.2,225.6 293.3,225.8 293.4,224.6 293.5,225.3 293.6,224.8 293.7,224.6 293.8,224.3 293.9,224.3 294.0,225.6 294.1,224.3 294.2,224.5 294.3,224.7 294.4,225.8 294.5,225.4 294.6,225.2 294.7,224.9 294.8,224.5 294.9,225.1 295.0,225.0 295.1,225.5 295.2,224.4 295.3,224.2 295.4,223.7 295.5,224.9 295.6,224.4 295.7,225.6 295.8,224.9 295.9,224.9 296.0,225.1 296.1,223.5 296.2,225.4 296.3,225.2 296.4,224.8 296.5,224.5 296.6,224.9 296.7,225.1 296.8,225.0 296.9,224.0 297.0,224.4 297.1,224.5 297.2,225.4 297.3,224.2 297.4,224.2 297.5,225.0 297.6,225.3 297.7,225.4 297.8,225.3 297.9,224.6 298.0,225.2 298.1,225.5 298.2,224.9 298.3,224.5 298.4,224.2 298.5,225.1 298.6,225.6 298.7,224.9 298.8,226.2 298.9,225.7 299.0,224.9 299.1,225.1 299.2,224.8 299.3,225.1 299.4,224.8 299.5,224.7 299.6,224.6 299.7,224.4 299.8,224.2 299.9,224.3 300.0,224.4 300.1,224.4 300.2,224.9 300.3,225.2 300.4,224.1 300.5,224.6 300.6,224.5 300.7,224.8 300.8,224.9 300.9,225.4 301.0,224.5 301.1,225.3 301.2,225.4 301.3,225.5 301.4,225.6 301.5,225.4 301.6,224.8 301.7,225.5 301.8,225.7 301.9,224.4 302.0,225.5 302.1,225.3 302.2,225.1 302.3,224.5 302.4,224.7 302.5,225.8 302.6,225.3 302.7,225.6 302.8,224.5 302.9,225.5 303.0,224.9 303.1,225.2 303.2,225.2 303.3,225.1 303.4,224.8 303.5,224.5 303.6,224.8 303.7,223.9 303.8,224.4 303.9,223.8 304.0,224.7 304.1,224.1 304.2,224.3 304.3,224.5 304.4,224.1 304.5,224.4 304.6,224.0 304.7,224.0 304.8,224.0 304.9,223.9 305.0,223.2 305.1,223.2 305.2,223.1 305.3,223.1 305.4,223.6 305.5,223.2 305.6,222.6 305.7,223.3 305.8,223.4 305.9,222.4 306.0,221.6 306.1,222.3 306.2,221.1 306.3,221.3 306.4,221.0 306.5,221.8 306.6,220.7 306.7,219.6 306.8,221.0 306.9,219.5 307.0,220.1 307.1,219.9 307.2,219.7 307.3,219.5 307.4,219.9 307.5,219.7 307.6,220.1 307.7,220.4 307.8,218.9 307.9,219.4 308.0,219.0 308.1,218.6 308.2,218.4 308.3,218.7 308.4,218.5 308.5,218.2 308.6,217.2 308.7,217.3 308.8,216.0 308.9,215.5 309.0,215.7 309.1,215.8 309.2,215.8 309.3,214.9 309.4,213.2 309.5,214.2 309.6,213.7 309.7,212.9 309.8,212.3 309.9,212.4 310.0,212.0 310.1,212.3 310.2,211.7 310.3,211.6 310.4,211.6 310.5,211.4 310.6,211.8 310.7,212.3 310.8,212.4 310.9,212.1 311.0,213.0 311.1,211.8 311.2,212.2 311.3,213.4 311.4,213.5 311.5,213.8 311.6,214.4 311.7,215.1 311.8,215.2 311.9,215.7 312.0,215.9 312.1,215.4 312.2,216.4 312.3,216.1 312.4,216.6 312.5,216.9 312.6,217.6 312.7,217.7 312.8,218.0 312.9,218.8 313.0,219.0 313.1,218.4 313.2,219.2 313.3,220.1 313.4,220.0 313.5,220.0 313.6,220.7 313.7,220.4 313.8,221.0 313.9,221.6 314.0,221.7 314.1,221.4 314.2,221.7 314.3,221.8 314.4,222.1 314.5,222.7 314.6,223.4 314.7,223.7 314.8,223.8 314.9,223.9 315.0,222.9 315.1,223.2 315.2,223.2 315.3,223.6 315.4,224.0 315.5,223.4 315.6,223.0 315.7,223.1 315.8,223.7 315.9,223.6 316.0,223.1 316.1,223.2 316.2,224.1 316.3,223.0 316.4,223.8 316.5,223.9 316.6,222.9 316.7,222.9 316.8,224.0 316.9,224.0 317.0,222.9 317.1,223.7 317.2,223.0 317.3,223.9 317.4,224.1 317.5,224.7 317.6,223.5 317.7,224.6 317.8,224.0 317.9,224.5 318.0,224.4 318.1,224.0 318.2,225.2 318.3,224.6 318.4,224.4 318.5,223.8 318.6,223.5 318.7,224.4 318.8,224.3 318.9,223.4 319.0,223.4 319.1,224.1 319.2,224.2 319.3,224.2 319.4,224.0 319.5,224.4 319.6,223.8 319.7,223.5 319.8,224.3 319.9,224.3 320.0,223.9 320.1,223.1 320.2,223.6 320.3,222.7 320.4,224.0 320.5,223.8 320.6,224.6 320.7,223.6 320.8,224.6 320.9,224.1 321.0,224.1 321.1,224.7 321.2,224.4 321.3,225.1 321.4,225.0 321.5,224.6 321.6,224.4 321.7,224.7 321.8,224.4 321.9,223.9 322.0,223.9 322.1,224.4 322.2,223.9 322.3,225.0 322.4,225.0 322.5,225.0 322.6,225.2 322.7,224.9 322.8,225.0 322.9,224.8 323.0,225.0 323.1,224.8 323.2,225.0 323.3,225.5 323.4,225.6 323.5,224.4 323.6,225.7 323.7,225.1 323.8,224.7 323.9,225.4 324.0,224.7 324.1,225.9 324.2,224.8 324.3,225.1 324.4,225.0 324.5,224.5 324.6,224.2 324.7,224.3 324.8,224.7 324.9,225.2 325.0,224.6 325.1,224.2 325.2,224.7 325.3,225.1 325.4,225.5 325.5,225.2 325.6,225.2 325.7,225.0 325.8,225.6 325.9,225.4 326.0,225.3 326.1,226.5 326.2,226.6 326.3,225.8 326.4,225.4 326.5,226.1 326.6,225.7 326.7,225.7 326.8,225.2 326.9,225.4 327.0,225.6 327.1,225.8 327.2,225.6 327.3,225.9 327.4,225.7 327.5,226.4 327.6,226.3 327.7,226.1 327.8,225.6 327.9,226.5 328.0,226.6 328.1,226.5 328.2,225.9 328.3,226.1 328.4,226.9 328.5,225.6 328.6,225.9 328.7,225.7 328.8,225.2 328.9,224.7 329.0,225.6 329.1,226.0 329.2,226.0 329.3,224.2 329.4,225.1 329.5,224.7 329.6,224.8 329.7,224.9 329.8,224.7 329.9,224.7 330.0,224.8 330.1,225.2 330.2,225.1 330.3,224.5 330.4,225.3 330.5,225.9 330.6,226.6 330.7,225.6 330.8,225.9 330.9,226.9 331.0,226.6 331.1,225.9 331.2,226.9 331.3,226.3 331.4,226.6 331.5,226.8 331.6,226.1 331.7,226.5 331.8,226.6 331.9,226.6 332.0,226.6 332.1,227.3 332.2,226.5 332.3,226.9 332.4,226.0 332.5,225.5 332.6,226.7 332.7,226.4 332.8,225.8 332.9,224.9 333.0,225.5 333.1,225.8 333.2,225.8 333.3,226.1 333.4,225.3 333.5,225.6 333.6,225.9 333.7,227.0 333.8,225.9 333.9,226.2" fill="none" stroke="#ff0000" stroke-width="0.8" stroke-linejoin="round"/>
<text class="pk" transform="translate(66.85,20.00) rotate(-90)">(101)</text>
<text class="pk" transform="translate(118.35,200.25) rotate(-90)">(103)</text>
<text class="pk" transform="translate(128.65,175.00) rotate(-90)">(004)</text>
<text class="pk" transform="translate(138.85,196.30) rotate(-90)">(112)</text>
<text class="pk" transform="translate(178.45,164.00) rotate(-90)">(200)</text>
<text class="pk" transform="translate(205.85,182.70) rotate(-90)">(105)</text>
<text class="pk" transform="translate(216.55,182.50) rotate(-90)">(211)</text>
<text class="pk" transform="translate(250.25,192.90) rotate(-90)">(204)</text>
<text class="pk" transform="translate(279.25,205.90) rotate(-90)">(116)</text>
<text class="pk" transform="translate(289.35,204.50) rotate(-90)">(220)</text>
<text class="pk" transform="translate(311.55,201.20) rotate(-90)">(215)</text>
<rect x="36.3" y="8.6" width="298.30" height="220.50" fill="none" stroke="#444" stroke-width="1.2"/>
<path d="M61.16,229.1 v-2.3 M86.02,229.1 v-4 M110.88,229.1 v-2.3 M135.73,229.1 v-4 M160.59,229.1 v-2.3 M185.45,229.1 v-4 M210.31,229.1 v-2.3 M235.17,229.1 v-4 M260.02,229.1 v-2.3 M284.88,229.1 v-4 M309.74,229.1 v-2.3 M36.3,210.50 h2.3 M36.3,192.50 h4 M334.6,192.50 h-4 M36.3,173.50 h2.3 M36.3,155.50 h4 M334.6,155.50 h-4 M36.3,137.50 h2.3 M36.3,118.50 h4 M334.6,118.50 h-4 M36.3,100.50 h2.3 M36.3,82.50 h4 M334.6,82.50 h-4 M36.3,63.50 h2.3 M36.3,45.50 h4 M334.6,45.50 h-4 M36.3,26.50 h2.3" stroke="#444" stroke-width="1" fill="none"/>
<text class="tk tm" x="36.00" y="241.0">20</text>
<text class="tk tm" x="85.72" y="241.0">30</text>
<text class="tk tm" x="135.43" y="241.0">40</text>
<text class="tk tm" x="185.15" y="241.0">50</text>
<text class="tk tm" x="234.87" y="241.0">60</text>
<text class="tk tm" x="284.58" y="241.0">70</text>
<text class="tk tm" x="334.30" y="241.0">80</text>
<text class="tk te" x="31.2" y="232.10">0</text>
<text class="tk te" x="31.2" y="195.35">20</text>
<text class="tk te" x="31.2" y="158.60">40</text>
<text class="tk te" x="31.2" y="121.85">60</text>
<text class="tk te" x="31.2" y="85.10">80</text>
<text class="tk te" x="31.2" y="48.35">100</text>
<text class="tk te" x="31.2" y="11.60">120</text>
<text class="lb tm" transform="translate(13.0,118.4) rotate(-90)">Intensity (a.u.)</text>
<text class="lb" x="156.7" y="254.5">2<tspan x="162.2" style="font-size:8.8px">θ</tspan><tspan x="170.1" y="254.6" style="font-size:7px">(</tspan><tspan x="173.2" y="254.5">degrees)</tspan></text>
<text class="ab" x="175.0" y="272.4"><tspan style="font-weight:normal">(</tspan><tspan style="font-size:14.3px">a</tspan><tspan style="font-weight:normal">)</tspan></text>
<line x1="234.5" y1="23.5" x2="234.5" y2="28" stroke="#999" stroke-width="0.8"/>
<line x1="224.3" y1="39.6" x2="250.3" y2="39.6" stroke="#ff4040" stroke-width="0.9"/>
<text class="lg" x="250.9" y="29.9">TiO<tspan font-size="7.5" dy="3.4">2</tspan><tspan dy="-3.4">-Anatase</tspan></text>
<text class="lg" x="254.0" y="43.6">TiO<tspan font-size="7.5" dy="3.4">2</tspan><tspan dy="-3.4"> Sol-Gel</tspan></text>
<path d="M48.7,368 48.90,376.45 49.75,379.52 50.60,381.04 51.45,379.12 52.30,385.72 53.15,387.46 54.00,390.20 54.85,393.06 55.70,394.38 56.55,393.04 57.40,394.91 58.25,397.17 59.10,399.97 59.95,399.75 60.80,397.05 61.65,398.37 62.50,402.51 63.35,403.02 64.20,398.80 65.05,395.92 65.90,397.13 66.75,392.19 67.60,391.08 68.45,390.67 69.30,387.78 70.15,385.52 71.00,384.71 71.85,378.13 72.70,375.11 73.55,371.57 74.40,370.37 75.25,368.20 76.10,365.87 76.95,361.78 77.80,358.73 78.65,354.59 79.50,350.92 80.35,350.60 81.20,343.13 82.05,346.62 82.90,339.36 83.75,332.60 84.60,332.23 85.45,330.32 86.30,329.44 87.15,321.29 88.00,320.86 88.85,318.16 89.70,312.00 90.55,310.30 91.40,311.45 92.25,310.18 93.10,309.51 93.95,308.20 94.80,310.73 95.65,311.72 96.50,315.02 97.35,312.09 98.20,314.92 99.05,317.53 99.90,315.88 100.75,324.51 101.60,323.44 102.45,328.18 103.30,335.97 104.15,333.73 105.00,337.91 105.85,345.57 106.70,344.21 107.55,349.06 108.40,354.46 109.25,358.68 110.10,363.27 110.95,366.98 111.80,372.91 112.65,376.86 113.50,380.66 114.35,382.20 115.20,385.97 116.05,387.29 116.90,394.17 117.75,392.25 118.60,399.26 119.45,403.47 120.30,401.26 121.15,404.60 122.00,407.27 122.85,411.72 123.70,411.19 124.55,414.56 125.40,416.08 126.25,418.66 127.10,423.24 127.95,421.75 128.80,424.74 129.65,426.08 130.50,428.03 131.35,425.74 132.20,430.48 133.05,430.46 133.90,432.18 134.75,431.98 135.60,430.30 136.45,432.70 137.30,435.82 138.15,435.50 139.00,436.43 139.85,440.27 140.70,441.94 141.55,439.54 142.40,443.12 143.25,437.94 144.10,438.52 144.95,443.49 145.80,442.58 146.65,444.61 147.50,445.32 148.35,445.23 149.20,447.12 150.05,447.10 150.90,445.43 151.75,448.69 152.60,449.18 153.45,451.98 154.30,448.21 155.15,450.29 156.00,450.11 156.85,450.97 157.70,453.90 158.55,452.43 159.40,451.59 160.25,452.80 161.10,453.99 161.95,451.87 162.80,453.23 163.65,456.08 164.50,455.31 165.35,454.21 166.20,453.76 167.05,454.35 167.90,452.57 168.75,456.17 169.60,455.48 170.45,455.35 171.30,453.40 172.15,454.19 173.00,455.88 173.85,455.51 174.70,454.46 175.55,455.83 176.40,456.41 177.25,454.17 178.10,454.31 178.95,453.74 179.80,453.25 180.65,455.85 181.50,455.36 182.35,455.03 183.20,452.83 184.05,452.91 184.90,454.18 185.75,453.62 186.60,454.29 187.45,453.08 188.30,455.01 189.15,456.87 190.00,456.79 190.85,457.15 191.70,455.30 192.55,456.69 193.40,455.08 194.25,457.04 195.10,455.44 195.95,455.47 196.80,455.43 197.65,457.35 198.50,456.84 199.35,456.80 200.20,455.07 201.05,456.97 201.90,454.95 202.75,459.08 203.60,457.03 204.45,457.62 205.30,457.36 206.15,455.49 207.00,455.92 207.85,457.90 208.70,460.10 209.55,456.71 210.40,457.38 211.25,458.36 212.10,456.22 212.95,456.29 213.80,458.12 214.65,458.70 215.50,458.31 216.35,461.00 217.20,458.79 218.05,459.59 218.90,461.35 219.75,461.58 220.60,457.24 221.45,458.96 222.30,461.12 223.15,457.80 224.00,458.50 224.85,458.09 225.70,458.10 226.55,458.49 227.40,460.34 228.25,461.90 229.10,462.33 229.95,460.40 230.80,457.84 231.65,460.49 232.50,460.20 233.35,461.22 234.20,460.67 235.05,458.53 235.90,461.57 236.75,458.36 237.60,460.28 238.45,461.71 239.30,461.85 240.15,463.56 241.00,458.43 241.85,462.05 242.70,462.50 243.55,461.15 244.40,462.42 245.25,460.10 246.10,462.43 246.95,462.27 247.80,460.24 248.65,460.65 249.50,461.28 250.35,460.65 251.20,462.90 252.05,461.74 252.90,463.25 253.75,463.04 254.60,461.52 255.45,461.14 256.30,460.10 257.15,460.24 258.00,460.21 258.85,461.69 259.70,460.01 260.55,461.25 261.40,461.36 262.25,460.40 263.10,460.77 263.95,462.90 264.80,463.08 265.65,459.86 266.50,460.69 267.35,460.50 268.20,460.67 269.05,463.12 269.90,462.03 270.75,462.84 271.60,463.57 272.45,460.66 273.30,461.04 274.15,461.38 275.00,462.73 275.85,461.29 276.70,462.31 277.55,463.05 278.40,463.12 279.25,462.24 280.10,460.68 280.95,459.75 281.80,463.37 282.65,462.56 283.50,460.80 284.35,461.45 285.20,461.60 286.05,460.06 286.90,462.68 287.75,461.38 288.60,462.11 289.45,463.55 290.30,462.50 291.15,463.38 292.00,463.25 292.85,462.77 293.70,462.83 294.55,465.25 295.40,462.61 296.25,465.01 297.10,461.70 297.95,463.90 298.80,463.20 299.65,462.05 300.50,459.57 301.35,465.18 302.20,461.61 303.05,461.92 303.90,463.41 304.75,463.37 305.60,463.72 306.45,463.07 307.30,461.50 308.15,464.65 309.00,462.39 309.85,463.92 310.70,464.44 311.55,465.29 312.40,463.52 313.25,463.46 314.10,463.61 314.95,461.58 315.80,463.09 316.65,462.84 317.50,462.73 318.35,464.52 319.20,463.98 320.05,466.53 320.90,466.47 321.75,462.17 322.60,464.85 323.45,463.47 324.30,465.57 325.15,465.13 326.00,466.21 326.85,465.51 327.70,466.19 328.55,464.93 329.40,462.18 330.25,464.00 331.10,464.53 331.95,465.11 332.80,464.54 333.65,468.05 334.50,465.84 335.35,467.82 336.20,465.83 337.05,468.49 337.90,464.94 338.75,467.37 339.60,465.03 340.45,467.43" fill="none" stroke="#0000ff" stroke-width="1.05" stroke-linejoin="round"/>
<rect x="48.4" y="280.7" width="292.90" height="217.80" fill="none" stroke="#444" stroke-width="1.2"/>
<path d="M61.50,498.5 v-2.3 M83.50,498.5 v-4 M105.50,498.5 v-2.3 M126.50,498.5 v-4 M148.50,498.5 v-2.3 M170.50,498.5 v-4 M192.50,498.5 v-2.3 M214.50,498.5 v-4 M236.50,498.5 v-2.3 M258.50,498.5 v-4 M279.50,498.5 v-2.3 M301.50,498.5 v-4 M323.50,498.5 v-2.3 M48.4,478.50 h2.3 M48.4,458.50 h4 M341.3,458.50 h-4 M48.4,439.50 h2.3 M48.4,419.50 h4 M341.3,419.50 h-4 M48.4,399.50 h2.3 M48.4,379.50 h4 M341.3,379.50 h-4 M48.4,359.50 h2.3 M48.4,340.50 h4 M341.3,340.50 h-4 M48.4,320.50 h2.3 M48.4,300.50 h4 M341.3,300.50 h-4" stroke="#444" stroke-width="1" fill="none"/>
<text class="tk tm" x="83.00" y="509.8">20</text>
<text class="tk tm" x="126.68" y="509.8">30</text>
<text class="tk tm" x="170.36" y="509.8">40</text>
<text class="tk tm" x="214.04" y="509.8">50</text>
<text class="tk tm" x="257.72" y="509.8">60</text>
<text class="tk tm" x="301.40" y="509.8">70</text>
<text class="tk te" x="43.6" y="501.50">0</text>
<text class="tk te" x="43.6" y="461.90">20</text>
<text class="tk te" x="43.6" y="422.30">40</text>
<text class="tk te" x="43.6" y="382.70">60</text>
<text class="tk te" x="43.6" y="343.10">80</text>
<text class="tk te" x="43.6" y="303.50">100</text>
<text class="lb tm" transform="translate(17.4,389.7) rotate(-90)">Intensity (a.u.)</text>
<text class="lb" x="166.2" y="525.7">2<tspan x="171.2" style="font-size:9.2px">θ</tspan><tspan x="179.3">(degrees)</tspan></text>
<text class="ab" x="174.9" y="546.0"><tspan style="font-weight:normal">(</tspan><tspan style="font-size:14.3px">b</tspan><tspan style="font-weight:normal">)</tspan></text>
<line x1="274.8" y1="305.9" x2="298" y2="305.9" stroke="#3a3aff" stroke-width="1"/>
<text class="lb" x="300.9" y="310.3">SiO<tspan font-size="7" dy="3.0">2</tspan></text>
</svg>
</body></html>
